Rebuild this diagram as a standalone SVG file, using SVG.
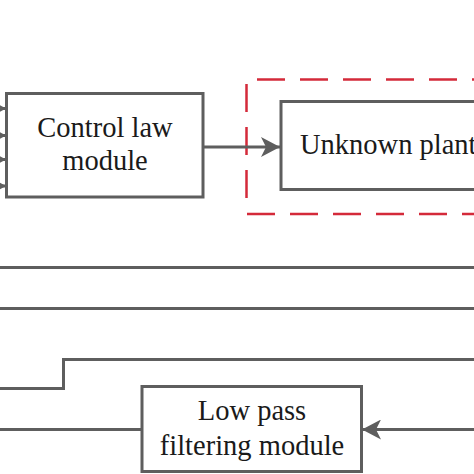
<svg xmlns="http://www.w3.org/2000/svg" width="474" height="474" viewBox="0 0 474 474">
<style>
.box{fill:#fff;stroke:#5e5e5e;stroke-width:3}
.ln{fill:none;stroke:#5e5e5e;stroke-width:3}
.red{fill:none;stroke:#d42a3a;stroke-width:2.5;stroke-dasharray:28 15}
.t{font-family:"Liberation Serif","Times New Roman",serif;font-size:28.5px;fill:#1a1a1a;text-anchor:middle}
</style>
<defs>
<marker id="ah" markerWidth="20" markerHeight="20" viewBox="0 0 20 20" refX="19" refY="10" orient="auto" markerUnits="userSpaceOnUse">
<path d="M0,0 L19,10 L0,20 L5,10 Z" fill="#5e5e5e"/>
</marker>
</defs>
<g id="dashed-frame">
<line class="red" x1="257" y1="79.5" x2="480" y2="79.5"/>
<line class="red" x1="247" y1="214" x2="480" y2="214"/>
<line class="red" x1="246.5" y1="84" x2="246.5" y2="210"/>
</g>
<g id="connectors">
<line class="ln" x1="-20" y1="108.5" x2="6" y2="108.5" marker-end="url(#ah)"/>
<line class="ln" x1="-20" y1="135.5" x2="6" y2="135.5" marker-end="url(#ah)"/>
<line class="ln" x1="-20" y1="159.5" x2="6" y2="159.5" marker-end="url(#ah)"/>
<line class="ln" x1="-20" y1="186" x2="6" y2="186" marker-end="url(#ah)"/>
<line class="ln" x1="203" y1="147" x2="280" y2="147" marker-end="url(#ah)"/>
<line class="ln" x1="0" y1="267.5" x2="474" y2="267.5"/>
<line class="ln" x1="0" y1="308.5" x2="474" y2="308.5"/>
<polyline class="ln" points="0,388.5 63.5,388.5 63.5,359.5 474,359.5"/>
<line class="ln" x1="0" y1="429.5" x2="142" y2="429.5"/>
<line class="ln" x1="474" y1="429.5" x2="362" y2="429.5" marker-end="url(#ah)"/>
</g>
<g id="control-law">
<rect class="box" x="6.5" y="93.5" width="196.5" height="103.5"/>
<text class="t" x="105" y="136.5">Control law</text>
<text class="t" x="105" y="170">module</text>
</g>
<g id="unknown-plant">
<rect class="box" x="281" y="101.5" width="220" height="88"/>
<text class="t" x="300" y="153.5" style="text-anchor:start">Unknown plant</text>
</g>
<g id="low-pass">
<rect class="box" x="142" y="386.5" width="219.5" height="85"/>
<text class="t" x="252" y="420">Low pass</text>
<text class="t" x="252" y="454.5">filtering module</text>
</g>
</svg>
